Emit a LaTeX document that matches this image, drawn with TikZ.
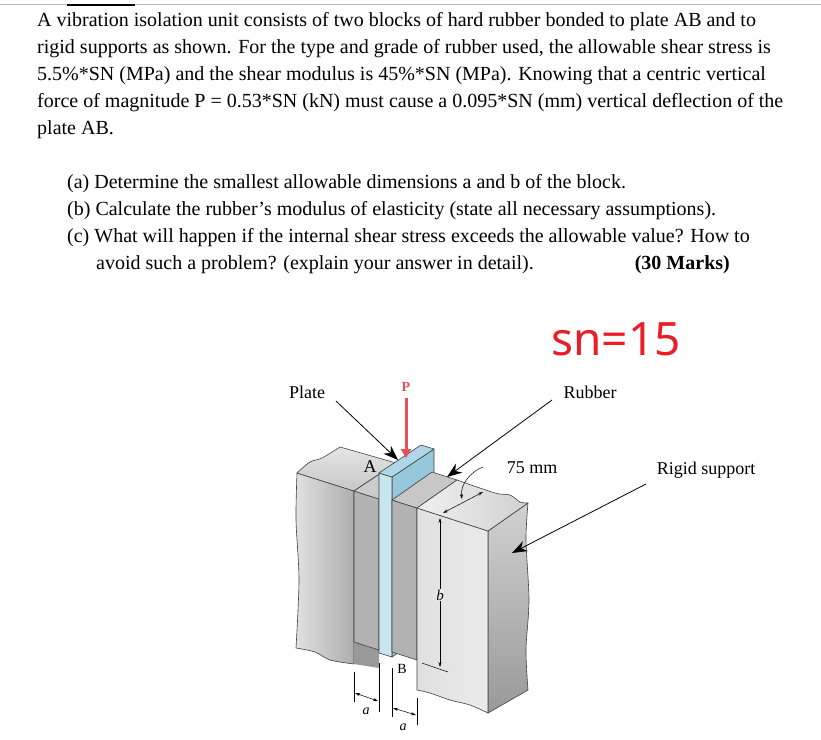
\documentclass[tikz,border=0pt]{standalone}
\usepackage{fontspec}
\setmainfont{Liberation Serif}
\newfontfamily\snf{Noto Sans}
\usetikzlibrary{arrows.meta}
\definecolor{pred}{RGB}{230,80,90}
\definecolor{snred}{RGB}{235,30,40}
\definecolor{plF}{RGB}{200,230,240}
\definecolor{plS}{RGB}{150,200,220}
\definecolor{plT}{RGB}{175,215,232}
\tikzset{
 body/.style={font=\fontsize{20}{24}\selectfont, anchor=base west, inner sep=0},
 lbl/.style={font=\fontsize{18}{21}\selectfont, inner sep=1pt},
 lead/.style={-{Stealth[length=15pt,width=11pt]}, line width=0.8pt},
 dim/.style={{Stealth[length=5pt,width=3pt]}-{Stealth[length=5pt,width=3pt]}, line width=0.5pt},
 ext/.style={line width=0.5pt},
 edge/.style={draw=black!75, line width=0.6pt, line join=round}
}
\begin{document}
\begin{tikzpicture}[x=1pt,y=-1pt]
\useasboundingbox (0,0) rectangle (821,739);
\fill[white] (0,0) rectangle (821,739);
% top rules
\draw[black!25, line width=1pt] (0,4) -- (821,4);
\draw[black, line width=2pt] (67,5) -- (135,5);
% problem text
\node[body] (l1) at (37,26) {A vibration isolation unit consists of two blocks of hard rubber bonded to plate AB and to};
\node[body] (l2) at (37,53) {rigid supports as shown. For the type and grade of rubber used, the allowable shear stress is};
\node[body] (l3) at (37,80) {5.5\%*SN (MPa) and the shear modulus is 45\%*SN (MPa). Knowing that a centric vertical};
\node[body] (l4) at (37,107) {force of magnitude P = 0.53*SN (kN) must cause a 0.095*SN (mm) vertical deflection of the};
\node[body] (l5) at (37,134) {plate AB.};
\node[body] (qa) at (67,188) {(a) Determine the smallest allowable dimensions a and b of the block.};
\node[body] (qb) at (67,215) {(b) Calculate the rubber’s modulus of elasticity (state all necessary assumptions).};
\node[body] (qc) at (67,242) {(c) What will happen if the internal shear stress exceeds the allowable value? How to};
\node[body] (qd) at (96,269) {avoid such a problem? (explain your answer in detail).};
\node[body, anchor=base east, font=\fontsize{20}{24}\selectfont\bfseries] (mk) at (730,269) {(30 Marks)};
\node[font=\snf\fontsize{46}{52}\selectfont, text=snred, anchor=base] (sn) at (616,355) {sn=15};
% ---------- figure ----------
% left support
\shade[left color=black!12, right color=black!32, edge] (297,473) plot[smooth] coordinates {(297,473) (296,520) (299,580) (296,648)}
  -- plot[smooth] coordinates {(296,648) (315,652) (330,660) (354,664)} -- (354,491) -- cycle;
\shade[top color=black!10, bottom color=black!22, edge] plot[smooth] coordinates {(297,473) (310,462) (322,458) (340,447)} -- (396,463) -- (354,491) -- cycle;
\fill[black!40] (354,642) -- (379,650) -- (379,668) -- (354,664) -- cycle;
% left rubber
\fill[black!30, edge] (354,491) -- (379,499) -- (379,650) -- (354,642) -- cycle;
\fill[black!20, edge] (354,491) -- (379,499) -- (421,471) -- (396,463) -- cycle;
% plate
\fill[plS, edge] (392,477) -- (434,449) -- (434,629) -- (392,657) -- cycle;
\fill[plF, edge] (379,473) -- (392,477) -- (392,657) -- (379,653) -- cycle;
\fill[plT, edge] (379,473) -- (392,477) -- (434,449) -- (421,445) -- cycle;
% right rubber
\fill[black!30, edge] (392,500) -- (417,508) -- (417,660) -- (392,652) -- cycle;
\fill[black!22, edge] (392,500) -- (417,508) -- (457,480) -- (432,472) -- cycle;
% right support
\shade[top color=black!18, bottom color=black!40, edge] (488,531) -- (528,503) -- plot[smooth] coordinates {(528,503) (526,540) (529,600) (526,650) (528,690)} -- (488,713) -- cycle;
\shade[left color=black!12, right color=black!8, edge] (417,508) -- (488,531) -- (488,713) -- plot[smooth] coordinates {(488,713) (470,705) (450,700) (430,693) (417,690)} -- cycle;
\shade[left color=black!6, right color=black!18, edge] (417,508) -- (457,480) -- plot[smooth] coordinates {(457,480) (495,493) (510,495) (520,502) (528,503)} -- (488,531) -- cycle;
% labels
\node[lbl, text=pred, font=\fontsize{14}{16}\selectfont\bfseries] (P) at (406,387) {P};
\coordinate (Ptip) at (406,458);
\draw[pred, line width=3pt, -{Triangle[length=9pt,width=10pt]}] (406,398) -- (Ptip);
\node[lbl] (plate) at (307,392) {Plate};
\coordinate (plt) at (398,460);
\draw[lead] (336,401) -- (plt);
\node[lbl] (rub) at (590,392) {Rubber};
\coordinate (rbt) at (447,477);
\draw[lead] (552,400) -- (rbt);
\node[lbl] (rs) at (706,470) {Rigid support};
\coordinate (rst) at (512,553);
\draw[lead] (646,484) -- (rst);
\node[lbl] (A) at (370,467) {A};
\node[lbl, font=\fontsize{14}{16}\selectfont] (B) at (402,669) {B};
% 75 mm
\node[lbl] (mm) at (532,468) {75 mm};
\coordinate (d1) at (443,513);
\coordinate (d2) at (483,492);
\draw[dim] (d1) -- (d2);
\coordinate (cv) at (483,467);
\coordinate (cvt) at (462,499);
\draw[line width=0.5pt, -{Stealth[length=5pt,width=3pt]}] (cv) .. controls (470,472) and (460,485) .. (cvt);
% b
\coordinate (b1) at (440,518);
\coordinate (b2) at (440,667);
\draw[dim] (b1) -- (b2);
\draw[ext] (422,663) -- (448,672);
\node[lbl, fill=black!8, inner sep=0.5pt, font=\itshape\fontsize{15}{17}\selectfont] (bl) at (440,595) {b};
% a dims
\draw[ext] (354,672) -- (354,702);
\draw[ext] (379,663) -- (379,712);
\draw[ext] (392,668) -- (392,717);
\draw[ext] (417,698) -- (417,725);
\coordinate (a1) at (355,693);
\coordinate (a2) at (378,701);
\draw[dim] (a1) -- (a2);
\coordinate (a3) at (393,708);
\coordinate (a4) at (416,715);
\draw[dim] (a3) -- (a4);
\node[lbl, font=\itshape\fontsize{14}{16}\selectfont] (al1) at (366,711) {a};
\node[lbl, font=\itshape\fontsize{14}{16}\selectfont] (al2) at (403,727) {a};
\end{tikzpicture}
\end{document}
